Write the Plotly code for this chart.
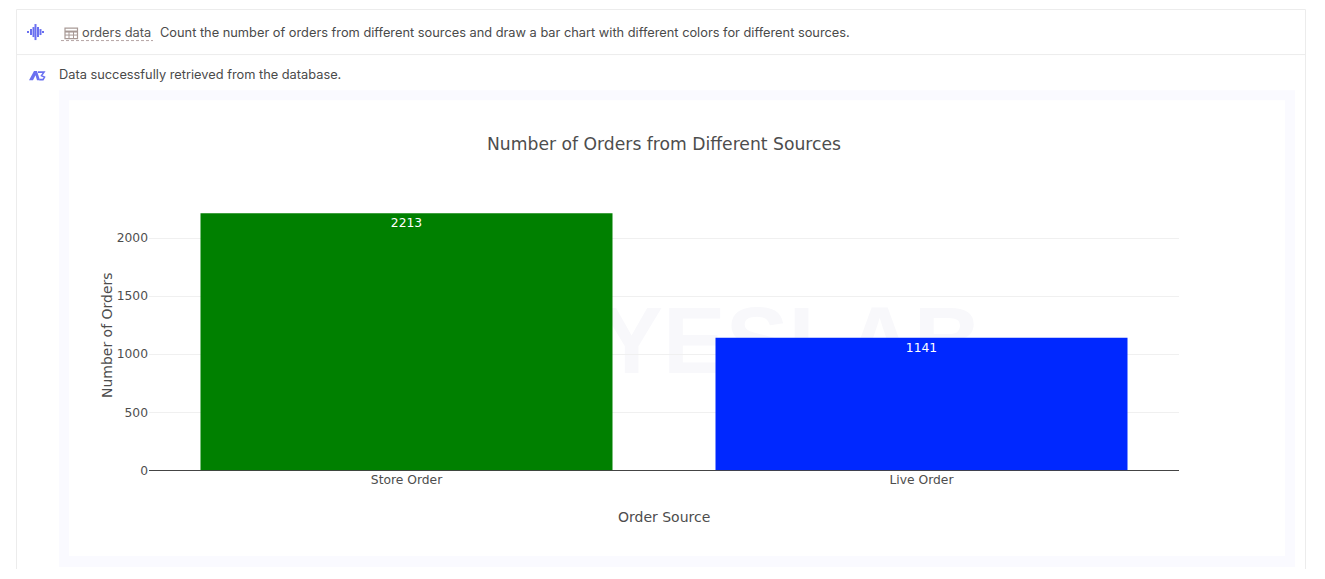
import plotly.graph_objects as go

W = 1325
H = 579

sources = ["Store Order", "Live Order"]
orders = [2213, 1141]
colors = ["#008000", "#0028ff"]
y_ticks = [0, 500, 1000, 1500, 2000]

CHART_FONT = "DejaVu Sans"
UI_FONT = "Inter"
TEXT_COLOR = "#4d4d4d"


# pixel position on the page -> paper fraction
def px(x):
    return x / W


def py(y):
    return 1 - y / H


def box(x0, y0, x1, y1, **kw):
    return dict(type="rect", xref="paper", yref="paper", x0=px(x0), x1=px(x1),
                y0=py(y1), y1=py(y0), layer="below", **kw)


def seg(x0, y0, x1, y1, color, width=1, dash="solid"):
    return dict(type="line", xref="paper", yref="paper", x0=px(x0), x1=px(x1),
                y0=py(y0), y1=py(y1), layer="above",
                line=dict(color=color, width=width, dash=dash))


def label(x, y, text, color="#4a4a4a", size=12.8, font=UI_FONT, xanchor="left", angle=0):
    return dict(xref="paper", yref="paper", x=px(x), y=py(y), text=text,
                showarrow=False, xanchor=xanchor, yanchor="middle", textangle=angle,
                font=dict(family=font, size=size, color=color))


fig = go.Figure()
fig.add_trace(go.Bar(x=sources, y=orders, marker_color=colors,
                     marker_line_width=0,
                     text=orders, textposition="inside", insidetextanchor="end",
                     textangle=0,
                     textfont=dict(color="#ffffff", size=12.3, family=CHART_FONT)))

shapes = [
    # outer card and header divider
    seg(16.5, 9.5, 1305.5, 9.5, "#ececec"),
    seg(16.5, 9.5, 16.5, 568, "#ececec"),
    seg(1305.5, 9.5, 1305.5, 568, "#ececec"),
    seg(17, 54.5, 1305, 54.5, "#ececec"),
    # chart panel
    box(59, 90, 1295, 566, fillcolor="#fafaff", line=dict(width=0)),
    box(69, 100, 1285, 555, fillcolor="#ffffff", line=dict(width=0)),
    # watermark
    box(552, 284, 1030, 378, fillcolor="rgba(0,0,0,0)", line=dict(width=0),
        label=dict(text="<b>YESLAB</b>", textposition="middle center",
                   font=dict(family="Liberation Sans", size=94, color="#f8f8fb"))),
    # dashed underline on the table tag
    seg(61, 40.5, 153, 40.5, "#b5a5a5", 1, "3px,2px"),
    # table icon
    box(65, 28, 77.5, 38.5, fillcolor="#ffffff", line=dict(color="#a89a96", width=1.2)) | {"layer": "above"},
    seg(65, 31.5, 77.5, 31.5, "#a89a96", 2),
    seg(65, 35, 77.5, 35, "#a89a96", 1),
    seg(69, 31.5, 69, 38.5, "#a89a96", 1),
    seg(73.5, 31.5, 73.5, 38.5, "#a89a96", 1),
    # answer logo
    dict(type="path", xref="paper", yref="paper", layer="above", fillcolor="#6a70f0",
         line=dict(width=0),
         path=f"M {px(29)} {py(80)} L {px(34)} {py(71)} L {px(37)} {py(71)} L {px(40)} {py(80)} "
              f"L {px(37)} {py(80)} L {px(35.5)} {py(75)} L {px(33)} {py(80)} Z"),
    dict(type="path", xref="paper", yref="paper", layer="above", fillcolor="rgba(0,0,0,0)",
         line=dict(color="#6a70f0", width=1.6),
         path=f"M {px(38)} {py(72)} L {px(44)} {py(72)} L {px(41.5)} {py(75.5)} "
              f"L {px(44.5)} {py(77)} L {px(43)} {py(79.5)} L {px(39.5)} {py(79.5)}"),
]

# waveform icon in the question row
for x_bar, half in [(28, 1), (31, 3), (33.5, 5), (35.5, 8), (38, 5), (40.5, 3), (43, 1)]:
    shapes.append(seg(x_bar, 32 - half, x_bar, 32 + half, "#6a70f0", 2))

fig.update_layout(
    width=W,
    height=H + 8,  # plotly came out 8px short at 579
    margin=dict(l=0, r=0, t=0, b=0),
    autosize=False,
    paper_bgcolor="#ffffff",
    plot_bgcolor="rgba(0,0,0,0)",
    showlegend=False,
    bargap=0.2,
    font=dict(family=CHART_FONT, color=TEXT_COLOR),
    shapes=shapes,
    annotations=[
        label(79.5, 32.5, "orders data", color="#555555"),
        label(157.5, 32.5, "Count the number of orders from different sources and draw a bar chart with different colors for different sources."),
        label(56.5, 74.5, "Data successfully retrieved from the database."),
        label(664, 143.5, "Number of Orders from Different Sources", size=17.2,
              font=CHART_FONT, color=TEXT_COLOR, xanchor="center"),
        label(664, 516.5, "Order Source", size=14, font=CHART_FONT,
              color=TEXT_COLOR, xanchor="center"),
        label(106.5, 335, "Number of Orders", size=14, font=CHART_FONT,
              color=TEXT_COLOR, xanchor="center", angle=-90),
    ],
    xaxis=dict(domain=[px(149), px(1179)], anchor="y", showgrid=False,
               tickfont=dict(size=12.3), ticks="", showline=False),
    yaxis=dict(domain=[py(469.5), py(199.5)], range=[0, 2329], anchor="x",
               tickmode="array", tickvals=y_ticks, ticktext=[str(t) for t in y_ticks],
               gridcolor="#f0f0f0", gridwidth=1, tickfont=dict(size=12.3),
               zeroline=True, zerolinecolor="#444444", zerolinewidth=1,
               showline=False, ticks=""),
)

fig.write_html("out.html", post_script="document.body.style.margin='0';document.body.style.overflow='hidden';",
               config=dict(displayModeBar=False))
